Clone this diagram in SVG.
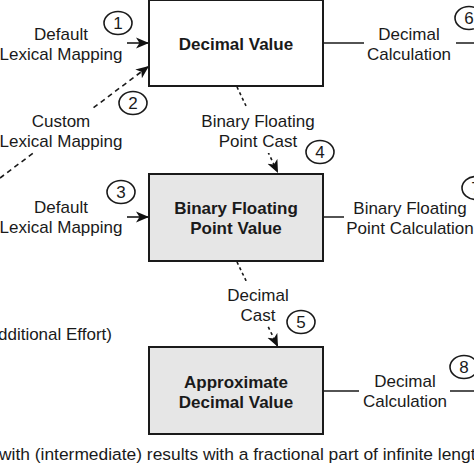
<svg xmlns="http://www.w3.org/2000/svg" width="474" height="474" viewBox="0 0 474 474">
<defs>
<marker id="ah" markerUnits="userSpaceOnUse" markerWidth="16" markerHeight="14" refX="13" refY="6" orient="auto" viewBox="0 0 16 14">
<path d="M0,0.5 L13,6 L0,11.5 L3.5,6 Z" fill="#111"/>
</marker>
<style>
text{font-family:"Liberation Sans",Arial,sans-serif;font-size:17px;fill:#1a1a1a;text-anchor:middle}
.b{font-weight:bold}
.box{stroke:#1a1a1a;stroke-width:2}
.w{fill:#fff}
.g{fill:#e6e6e6}
.ln{stroke:#1a1a1a;stroke-width:1.6;fill:none}
.dash{stroke-dasharray:5,4}
.dot{stroke-dasharray:3,3}
.num{fill:#fff;stroke:#1a1a1a;stroke-width:1.6}
.bg{fill:#fff}
</style>
</defs>
<g id="connectors">
<line class="ln" x1="127" y1="43" x2="149" y2="43" marker-end="url(#ah)"/>
<line class="ln" x1="127" y1="217" x2="149" y2="217" marker-end="url(#ah)"/>
<line class="ln dash" x1="0" y1="178" x2="149" y2="66" marker-end="url(#ah)"/>
<line class="ln dot" x1="237" y1="87" x2="278" y2="173" marker-end="url(#ah)"/>
<line class="ln dot" x1="237" y1="262" x2="278" y2="347" marker-end="url(#ah)"/>
<line class="ln" x1="323" y1="43" x2="474" y2="43"/>
<line class="ln" x1="323" y1="217" x2="474" y2="217"/>
<line class="ln" x1="323" y1="391" x2="474" y2="391"/>
</g>
<g id="labels">
<rect class="bg" x="0" y="109" width="126" height="43"/>
<text x="61" y="127">Custom</text>
<text x="61" y="147">Lexical Mapping</text>
<rect class="bg" x="214" y="107" width="90" height="46"/>
<text x="258" y="127">Binary Floating</text>
<text x="258" y="147">Point Cast</text>
<rect class="bg" x="222" y="281" width="72" height="44"/>
<text x="258" y="301">Decimal</text>
<text x="258" y="321">Cast</text>
<rect class="bg" x="364" y="22" width="92" height="44"/>
<text x="409" y="40">Decimal</text>
<text x="409" y="60">Calculation</text>
<rect class="bg" x="344" y="196" width="130" height="44"/>
<text x="410" y="214">Binary Floating</text>
<text x="410" y="234">Point Calculation</text>
<rect class="bg" x="359" y="370" width="91" height="44"/>
<text x="405" y="387">Decimal</text>
<text x="405" y="407">Calculation</text>
<text x="61" y="40">Default</text>
<text x="61" y="60">Lexical Mapping</text>
<text x="61" y="213">Default</text>
<text x="61" y="233">Lexical Mapping</text>
<text x="112" y="340" style="text-anchor:end">dditional Effort)</text>
<text x="-1" y="460" style="text-anchor:start;font-size:17.4px">with (intermediate) results with a fractional part of infinite length</text>
</g>
<g id="node-decimal-value">
<rect class="box w" x="149" y="0" width="174" height="86"/>
<text class="b" x="236" y="50">Decimal Value</text>
</g>
<g id="node-binary-floating-point-value">
<rect class="box g" x="149" y="174" width="174" height="87"/>
<text class="b" x="236" y="214">Binary Floating</text>
<text class="b" x="236" y="234">Point Value</text>
</g>
<g id="node-approximate-decimal-value">
<rect class="box g" x="149" y="347" width="174" height="87"/>
<text class="b" x="236" y="388">Approximate</text>
<text class="b" x="236" y="408">Decimal Value</text>
</g>
<g id="markers">
<ellipse class="num" cx="118" cy="23" rx="14" ry="11.5"/><text x="118" y="29">1</text>
<ellipse class="num" cx="133" cy="103" rx="14" ry="11.5"/><text x="133" y="109">2</text>
<ellipse class="num" cx="121" cy="192" rx="14" ry="11.5"/><text x="121" y="198">3</text>
<ellipse class="num" cx="320" cy="152" rx="14" ry="11.5"/><text x="320" y="158">4</text>
<ellipse class="num" cx="301" cy="322" rx="14" ry="11.5"/><text x="301" y="328">5</text>
<ellipse class="num" cx="469" cy="18" rx="14" ry="11.5"/><text x="469" y="24">6</text>
<ellipse class="num" cx="476" cy="188" rx="14" ry="11.5"/><text x="476" y="194">7</text>
<ellipse class="num" cx="464" cy="367" rx="14" ry="11.5"/><text x="464" y="373">8</text>
</g>
</svg>
